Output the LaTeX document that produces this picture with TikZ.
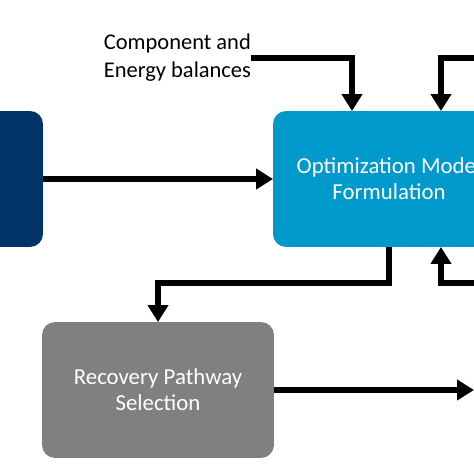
\documentclass[tikz,border=0pt]{standalone}
\usepackage{fontspec}
\setmainfont{Carlito}
\usetikzlibrary{arrows.meta}
\usetikzlibrary{positioning}
\definecolor{navy}{RGB}{0,51,102}
\definecolor{optblue}{RGB}{0,153,204}
\definecolor{boxgray}{RGB}{128,128,128}
\tikzset{
  ->,
  >={Triangle[length=0.34cm,width=0.4cm]},
  block/.style = {rectangle, rounded corners=0.26cm, minimum width=4.64cm,
    minimum height=2.72cm, align=center, text=white, outer sep=0pt,
    font=\fontsize{13}{14.8}\selectfont},
}

\begin{document}
\begin{tikzpicture}[x=0.02cm, y=-0.02cm, line width=0.11cm]
    \useasboundingbox (0,0) rectangle (474,474);
    \clip (0,0) rectangle (474,474);
    \node [block, fill=navy] (src) at (-73,179) {};
    \node [block, fill=optblue] (opt) at (389,179) {Optimization Model\\Formulation};
    \node [block, fill=boxgray] (rec) at (158,390) {Recovery Pathway\\Selection};
    \node [anchor=east, align=left, inner sep=0pt, outer sep=0pt, font=\fontsize{12.8}{15.9}\selectfont] (bal) at (251,58) {Component and\\Energy balances};
    \coordinate (in1) at (480,58);
    \coordinate (in2) at (480,283);
    \coordinate (out) at (474,390);
    \draw (src) -- (opt);
    \draw (bal.east) -| ([xshift=-0.74cm]opt.north);
    \draw (in1) -| ([xshift=1.04cm]opt.north);
    \draw (opt.south) -- ++(0,36) -| (rec.north);
    \draw (in2) -| ([xshift=1.04cm]opt.south);
    \draw (rec) -- (out);
  \end{tikzpicture}
\end{document}
